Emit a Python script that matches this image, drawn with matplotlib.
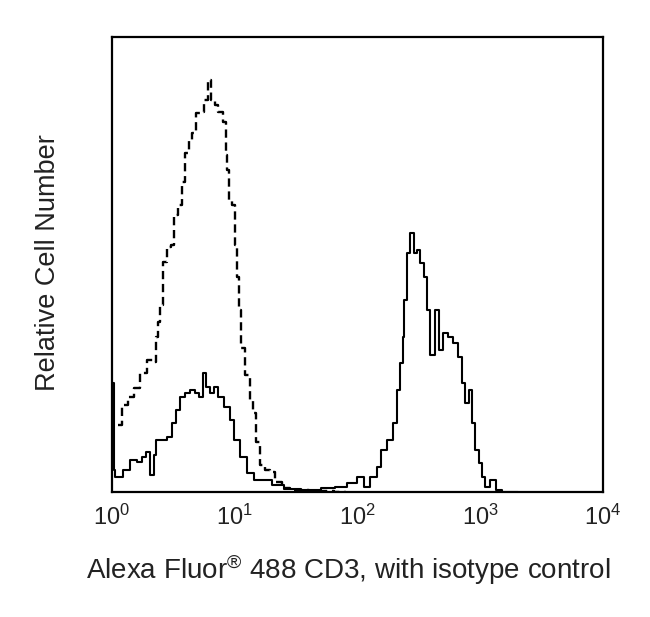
import matplotlib
matplotlib.use("Agg")
import matplotlib.pyplot as plt
import numpy as np

# Isotype control (dashed) histogram
iso_x = [1.12, 1.28, 1.40, 1.60, 1.79, 2.04, 2.24, 2.33, 2.37, 2.55, 2.70, 2.86, 3.14, 3.26,
         3.58, 3.79, 4.08, 4.32, 4.57, 5.02, 5.51, 5.83, 6.28, 6.65, 7.03, 7.59, 8.33, 8.49,
         8.81, 9.15, 9.86, 10.4, 10.6, 11.0, 11.7, 12.6, 13.8, 14.6, 15.2, 16.7, 18.3, 20.1,
         22.5, 25.7, 31.0, 49.5, 80.0]
iso_y = [14.7, 19.1, 20.9, 22.9, 26.2, 29.0, 28.6, 34.1, 37.4, 41.1, 50.5, 53.8, 54.3, 60.9,
         63.1, 68.1, 74.5, 77.4, 78.9, 83.3, 83.5, 86.2, 90.5, 86.2, 85.1, 83.5, 81.3, 74.1,
         70.8, 64.2, 63.1, 54.3, 47.3, 40.0, 31.6, 25.7, 20.2, 17.4, 11.0, 5.9, 4.8, 4.4,
         2.2, 0.9, 0.4, 0.2, 0.0]

# CD3 stained (solid) histogram
cd3_x = [1.00, 1.02, 1.04, 1.08, 1.16, 1.32, 1.48, 1.69, 1.79, 1.96, 2.12, 2.24, 2.33, 2.60,
         2.97, 3.14, 3.45, 3.72, 4.08, 4.48, 4.93, 5.21, 5.73, 5.94, 6.53, 6.90, 7.59, 8.65,
         9.50, 10.4, 11.7, 13.3, 15.2, 18.3, 22.1, 28.2, 41.0, 59.7, 72.0, 91.9, 105, 119,
         134, 152, 161, 184, 202, 214, 231, 235, 244, 258, 278, 294, 311, 335, 355, 375,
         405, 444, 470, 516, 567, 623, 684, 723, 780, 825, 873, 942, 995, 1053, 1136, 1270,
         1396, 1592, 2000]
cd3_y = [24.0, 24.0, 4.8, 3.3, 3.3, 4.8, 7.0, 6.6, 7.7, 8.8, 3.7, 8.1, 11.4, 11.4,
         12.1, 15.2, 18.0, 20.9, 21.8, 22.4, 21.8, 20.9, 26.2, 23.1, 21.8, 23.1, 20.9, 18.7,
         15.8, 11.4, 7.7, 4.2, 2.6, 2.6, 1.5, 0.7, 0.4, 0.9, 1.1, 2.0, 3.3, 1.1,
         3.3, 5.5, 9.2, 11.4, 15.2, 22.4, 28.4, 34.1, 42.2, 52.5, 56.9, 52.5, 53.2, 50.3, 47.3, 40.0,
         30.1, 40.0, 31.2, 34.9, 34.1, 32.7, 29.7, 24.0, 19.6, 22.4, 15.2, 9.2, 6.4, 3.3, 1.1, 2.6,
         0.4, 0.0, 0.0]

xtick_vals = [1, 10, 100, 1000, 10000]
xtick_labels = [r"$10^{0}$", r"$10^{1}$", r"$10^{2}$", r"$10^{3}$", r"$10^{4}$"]

plt.rcParams['font.family'] = ['Liberation Sans', 'DejaVu Sans']
plt.rcParams['mathtext.fontset'] = 'custom'
plt.rcParams['mathtext.rm'] = 'Liberation Sans'
plt.rcParams['mathtext.it'] = 'Liberation Sans'

fig = plt.figure(figsize=(6.5, 6.17), dpi=100)
ax = fig.add_axes([0.1723, 0.2026, 0.7554, 0.7374])

ax.plot(iso_x, iso_y, color='black', lw=1.7, linestyle=(0, (3.5, 2)), drawstyle='steps-mid')
ax.plot(cd3_x, cd3_y, color='black', lw=1.5, drawstyle='steps-mid')

ax.set_xscale('log')
ax.set_xlim(1, 10000)
ax.set_ylim(0, 100)
ax.set_xticks(xtick_vals)
ax.set_xticklabels(xtick_labels, fontsize=17, color='#222222')
ax.xaxis.set_minor_locator(matplotlib.ticker.NullLocator())
ax.tick_params(axis='x', length=0, pad=9)
ax.set_yticks([])
for s in ax.spines.values():
    s.set_linewidth(1.6)
    s.set_color('black')

ax.set_xlabel(r"Alexa Fluor$^{\mathrm{®}}$ 488 CD3, with isotype control", fontsize=20, color='#222222')
ax.xaxis.set_label_coords(0.482, -0.134)
ax.set_ylabel("Relative Cell Number", fontsize=19.5, color='#222222')
ax.yaxis.set_label_coords(-0.104, 0.505)

fig.savefig("out.png", dpi=100, facecolor='white')
